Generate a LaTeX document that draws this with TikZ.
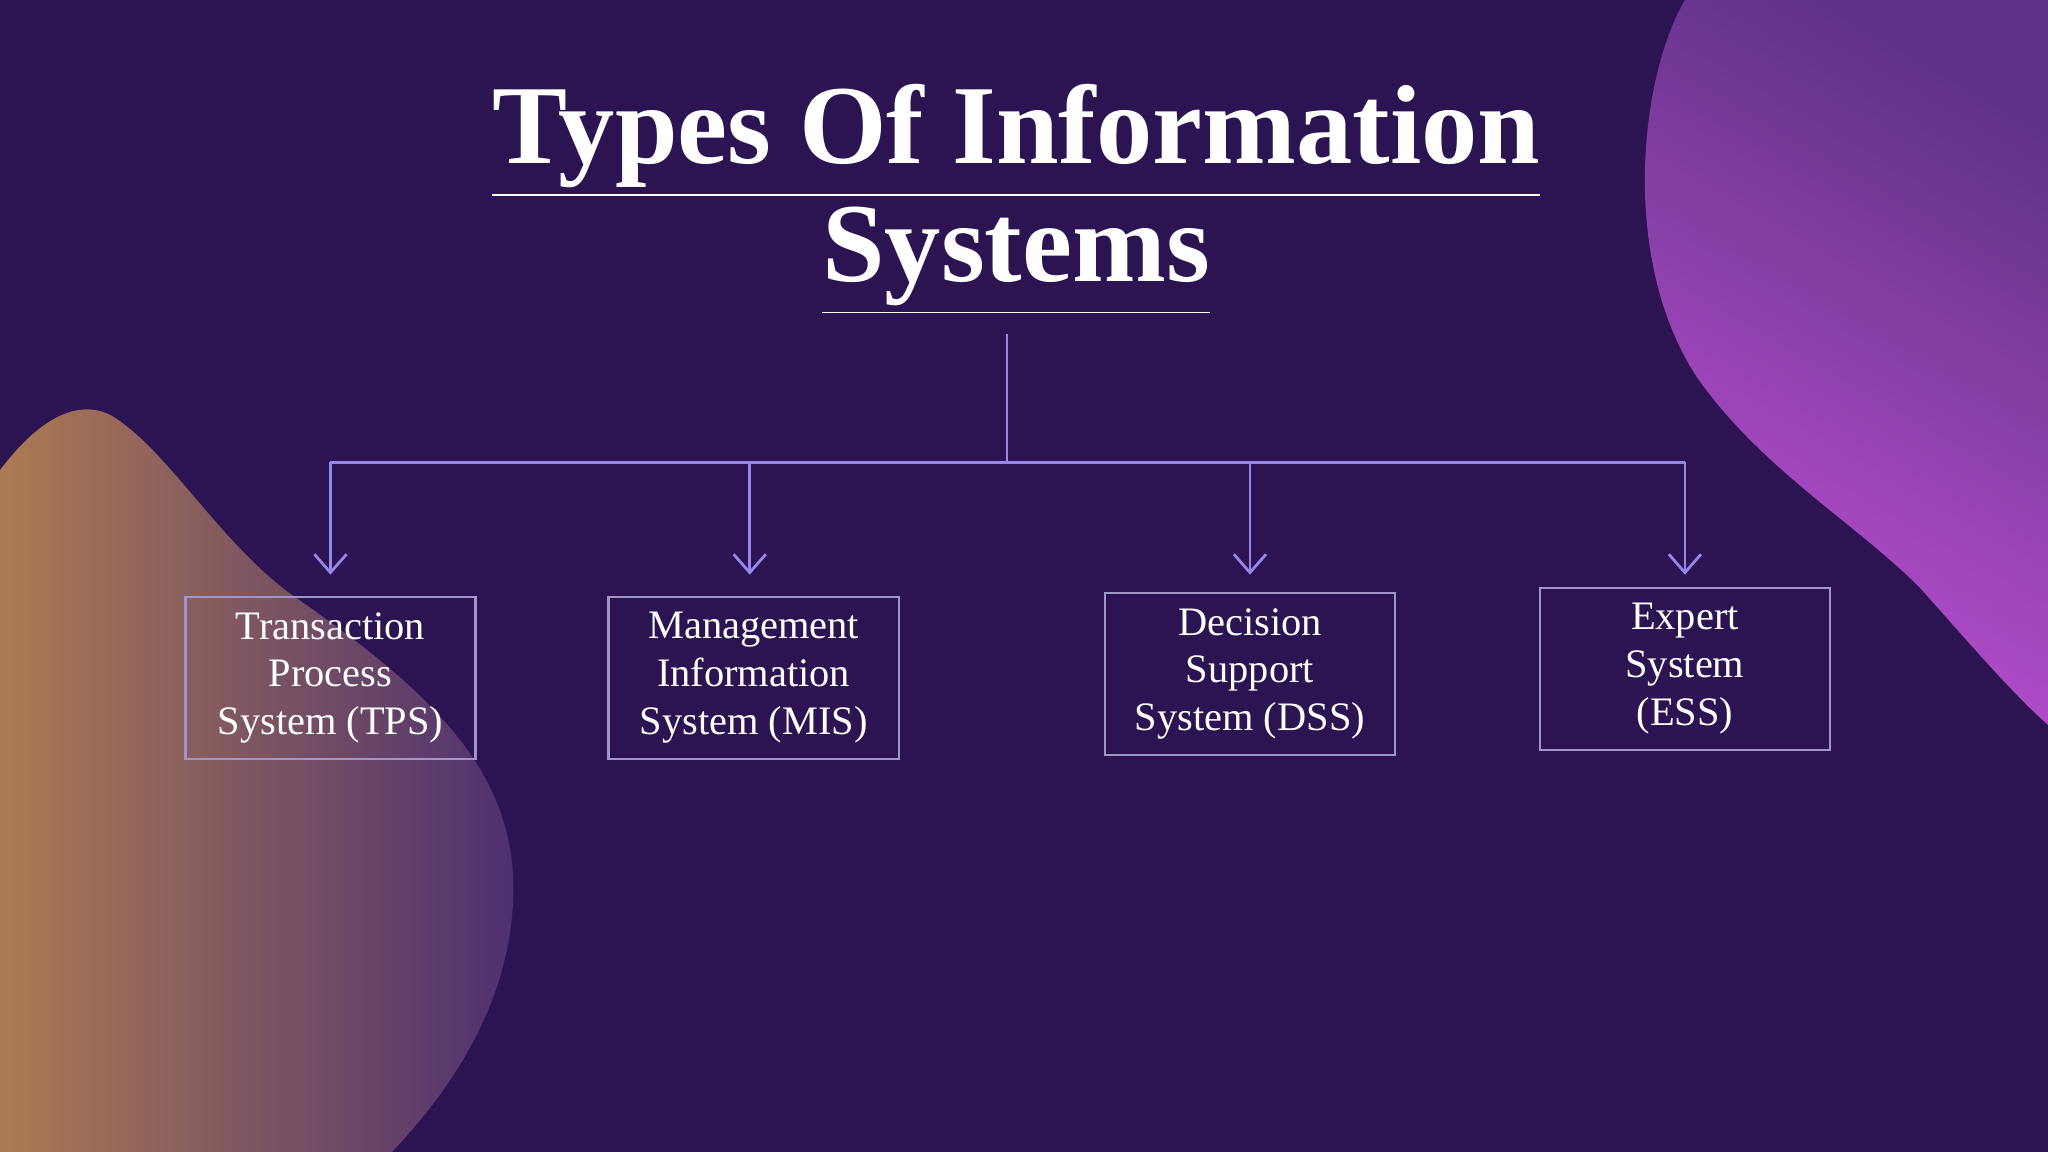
\documentclass[tikz,border=0pt]{standalone}
\usepackage{fontspec}
\setmainfont{Liberation Serif}
\usetikzlibrary{arrows.meta}
\definecolor{bg}{RGB}{44,20,82}
\definecolor{ln}{RGB}{150,135,235}
\definecolor{bx}{RGB}{160,150,200}
\tikzset{
  sysbox/.style={draw=bx, line width=0.5pt, minimum width=2.22cm, minimum height=1.24cm, align=center, text=white, font=\fontsize{8.8}{10.4}\selectfont, inner sep=0pt},
  conn/.style={draw=ln, line width=0.6pt},
  arr/.style={conn, -{Straight Barb[length=4pt,width=7pt]}}
}
\begin{document}
\begin{tikzpicture}[x=0.01cm,y=-0.01cm]
\fill[bg] (0,0) rectangle (1568,882);
\useasboundingbox (0,0) rectangle (1568,882);
% left blob
\shade[left color={rgb,255:red,172;green,122;blue,82}, right color={rgb,255:red,78;green,48;blue,112}]
 (0,360) .. controls (30,320) and (60,305) .. (85,318)
 .. controls (130,345) and (170,420) .. (230,460)
 .. controls (330,530) and (393,590) .. (393,680)
 .. controls (393,770) and (340,840) .. (300,882)
 -- (0,882) -- cycle;
% right blob
\shade[top color={rgb,255:red,95;green,50;blue,135}, bottom color={rgb,255:red,190;green,80;blue,210}, shading angle=-30]
 (1290,0) .. controls (1255,60) and (1240,200) .. (1300,290)
 .. controls (1350,360) and (1420,400) .. (1470,450)
 .. controls (1510,495) and (1540,530) .. (1568,555)
 -- (1568,0) -- cycle;
% title
\node[text=white, font=\fontsize{24.5}{26}\selectfont\bfseries] (t1) at (778,108) {\underline{Types Of Information}};
\node[text=white, font=\fontsize{24.5}{26}\selectfont\bfseries] (t2) at (778,200) {\underline{Systems}};
% boxes
\node[sysbox] (tps) at (253,519) {Transaction\\Process\\System (TPS)};
\node[sysbox] (mis) at (577,519) {Management\\Information\\System (MIS)};
\node[sysbox] (dss) at (957,516) {Decision\\Support\\System (DSS)};
\node[sysbox] (ess) at (1290,512) {Expert\\System\\(ESS)};
% connectors
\coordinate (top) at (771,256);
\coordinate (mid) at (771,354);
\coordinate (ja) at (253,354);
\coordinate (jb) at (574,354);
\coordinate (jc) at (957,354);
\coordinate (jd) at (1290,354);
\coordinate (ea) at (253,440);
\coordinate (eb) at (574,440);
\coordinate (ec) at (957,440);
\coordinate (ed) at (1290,440);
\draw[conn] (top) -- (mid);
\draw[conn] (ja) -- (jd);
\draw[arr] (ja) -- (ea);
\draw[arr] (jb) -- (eb);
\draw[arr] (jc) -- (ec);
\draw[arr] (jd) -- (ed);
\end{tikzpicture}
\end{document}
